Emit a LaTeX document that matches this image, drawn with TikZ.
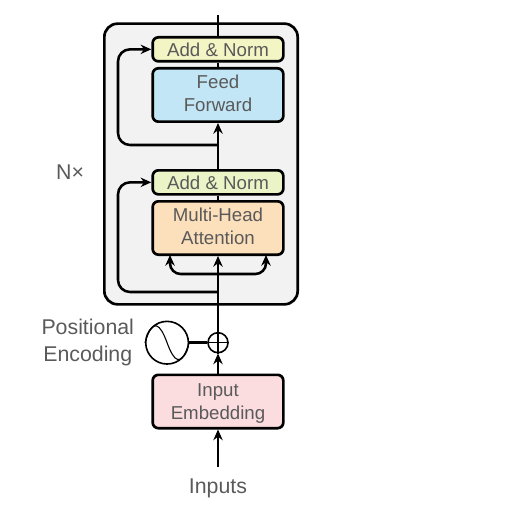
\documentclass[tikz,border=0pt]{standalone}
\usepackage{fontspec}
\setmainfont{Liberation Sans}
\usepackage{xcolor}
\usetikzlibrary{positioning,arrows.meta}
\definecolor{Ink}{HTML}{5A5A5A}
\definecolor{Panel}{HTML}{F2F2F2}
\definecolor{Norm}{HTML}{F3F5C4}
\definecolor{NormB}{HTML}{EAF4C6}
\definecolor{Feed}{HTML}{C2E6F6}
\definecolor{Attn}{HTML}{FCDFBB}
\definecolor{Embed}{HTML}{FBDDE0}
\begin{document}
\begin{tikzpicture}[x=.75pt,y=-.75pt,every node/.style={font=\fontsize{14}{17}\selectfont,text=Ink}]
\tikzstyle{block}=[draw=black,line width=2pt,rounded corners=1.5mm,minimum width=98pt,minimum height=40pt,align=center,inner sep=0pt]
\tikzstyle{thin}=[block,minimum height=18pt]
\tikzstyle{link}=[line width=1.9pt,draw=black]
\tikzstyle{flow}=[link,-{Stealth[length=8pt,width=7pt]}]
\tikzstyle{caption}=[font=\fontsize{16}{20}\selectfont,align=center,inner sep=0pt]
\useasboundingbox (0,0) rectangle (518,517);
\node[draw=black,line width=2pt,fill=Panel,rounded corners=3.5mm,minimum width=145pt,minimum height=210.5pt] (encoder) at (201,164) {};
\node[block,fill=Embed,text depth=0pt] (embed) at (218,401.5) {Input\\Embedding};
\node[caption,below=37pt of embed] (inputs) {Inputs};
\node[draw=black,line width=1.2pt,circle,minimum size=15pt,inner sep=0pt,above=15pt of embed] (plus) {};
\node[draw=black,line width=1.2pt,circle,minimum size=32pt,inner sep=0pt,left=13.5pt of plus] (sine) {};
\node[caption,left=8pt of sine] (posenc) {Positional\\Encoding};
\node[block,fill=Attn,text depth=3pt] (attn) at (218,228) {Multi-Head\\Attention};
\node[thin,fill=NormB,above=3.25pt of attn] (norma) {Add \& Norm};
\node[block,fill=Feed,text depth=3pt,above=34.5pt of norma] (feed) {Feed\\Forward};
\node[thin,fill=Norm,above=3.25pt of feed] (normb) {Add \& Norm};
\node[caption,left=14pt of encoder.west,yshift=-6pt,anchor=east] (times) {N×};
\coordinate (out) at (218,15);
\coordinate (from) at (218,467);
\coordinate (tapa) at (218,292);
\coordinate (tapb) at (218,145);
\coordinate (tapc) at (218,274);
\coordinate (raila) at (118,292);
\coordinate (railb) at (118,145);
\coordinate (keyin) at (170,255);
\coordinate (valin) at (266,255);
\draw[flow] (from)--(embed);
\draw[flow] (embed)--(plus);
\draw[link] (sine)--(plus);
\draw[flow] (plus)--(attn);
\draw[link] (attn)--(norma);
\draw[flow] (norma)--(feed);
\draw[link] (feed)--(normb);
\draw[link] (normb)--(out);
\draw[flow,rounded corners=9pt] (tapa)--(raila)|-(norma);
\draw[flow,rounded corners=9pt] (tapb)--(railb)|-(normb);
\draw[flow,rounded corners=8pt] (tapc)-|(keyin);
\draw[flow,rounded corners=8pt] (tapc)-|(valin);
\draw[line width=.8pt] (plus.west)--(plus.east) (plus.north)--(plus.south);
\draw[line width=.8pt] (sine.west) .. controls +(8,-26) and +(-7,-19) .. (sine.center) .. controls +(7,19) and +(-8,26) .. (sine.east);
\end{tikzpicture}
\end{document}
